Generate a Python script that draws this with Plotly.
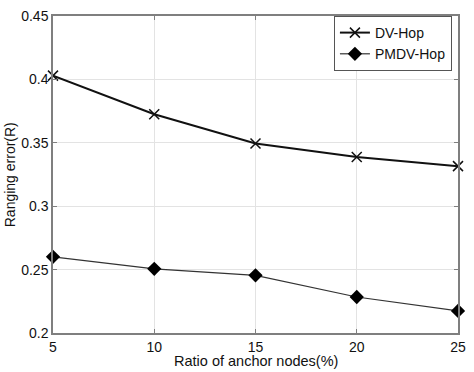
import plotly.graph_objects as go

x_ratio = [5, 10, 15, 20, 25]
dv_hop = [0.403, 0.3725, 0.3495, 0.3388, 0.3316]
pmdv_hop = [0.2601, 0.2506, 0.2455, 0.2284, 0.2174]
x_ticks = [5, 10, 15, 20, 25]
y_ticks = [0.2, 0.25, 0.3, 0.35, 0.4, 0.45]
y_tick_labels = ["0.2", "0.25", "0.3", "0.35", "0.4", "0.45"]

FONT = "Liberation Sans, Arial, sans-serif"
W, H = 474, 372
ML, MR, MT, MB = 53, 9, 8, 39

fig = go.Figure()
fig.add_trace(go.Scatter(
    x=x_ratio, y=dv_hop, name="DV-Hop", mode="lines+markers",
    line=dict(color="#111111", width=2),
    marker=dict(symbol="x-thin", size=10, line=dict(color="#111111", width=1.5)),
    cliponaxis=False,
))
fig.add_trace(go.Scatter(
    x=x_ratio, y=pmdv_hop, name="PMDV-Hop", mode="lines+markers",
    line=dict(color="#333333", width=1.2),
    marker=dict(symbol="diamond", size=11, color="#000000"),
    cliponaxis=False,
))

axis_common = dict(
    showline=True, linecolor="#7f7f7f", linewidth=1.5, mirror="ticks",
    ticks="inside", ticklen=4, tickcolor="#7f7f7f",
    showgrid=True, gridcolor="#e3e3e3", gridwidth=1,
    zeroline=False,
    tickfont=dict(family=FONT, size=14, color="#111111"),
)

fig.update_xaxes(range=[5, 25], tickvals=x_ticks, ticktext=[str(v) for v in x_ticks], **axis_common)
fig.update_yaxes(range=[0.2, 0.45], tickvals=y_ticks, ticktext=y_tick_labels, **axis_common)

plot_h = H - MT - MB
plot_w = W - ML - MR
fig.add_annotation(
    text="Ratio of anchor nodes(%)", xref="paper", yref="paper",
    x=0.5, y=-(362 - (H - MB)) / plot_h, xanchor="center", yanchor="middle",
    showarrow=False, font=dict(family=FONT, size=14.5, color="#111111"),
)
fig.add_annotation(
    text="Ranging error(R)", xref="paper", yref="paper", textangle=-90,
    x=-(ML - 9) / plot_w, y=0.5, xanchor="center", yanchor="middle",
    showarrow=False, font=dict(family=FONT, size=14, color="#111111"),
)

fig.update_layout(
    width=W, height=H,
    margin=dict(l=ML, r=MR, t=MT, b=MB),
    plot_bgcolor="white", paper_bgcolor="white",
    showlegend=True,
    legend=dict(
        x=0.985, y=1.0, xanchor="right", yanchor="top",
        bgcolor="white", bordercolor="#555555", borderwidth=1,
        font=dict(family=FONT, size=14, color="#111111"),
        tracegroupgap=0, itemwidth=30,
    ),
)

fig.write_html(
    "out.html",
    config={"displayModeBar": False},
    post_script="document.body.style.margin='0';document.body.style.overflow='hidden';",
)
